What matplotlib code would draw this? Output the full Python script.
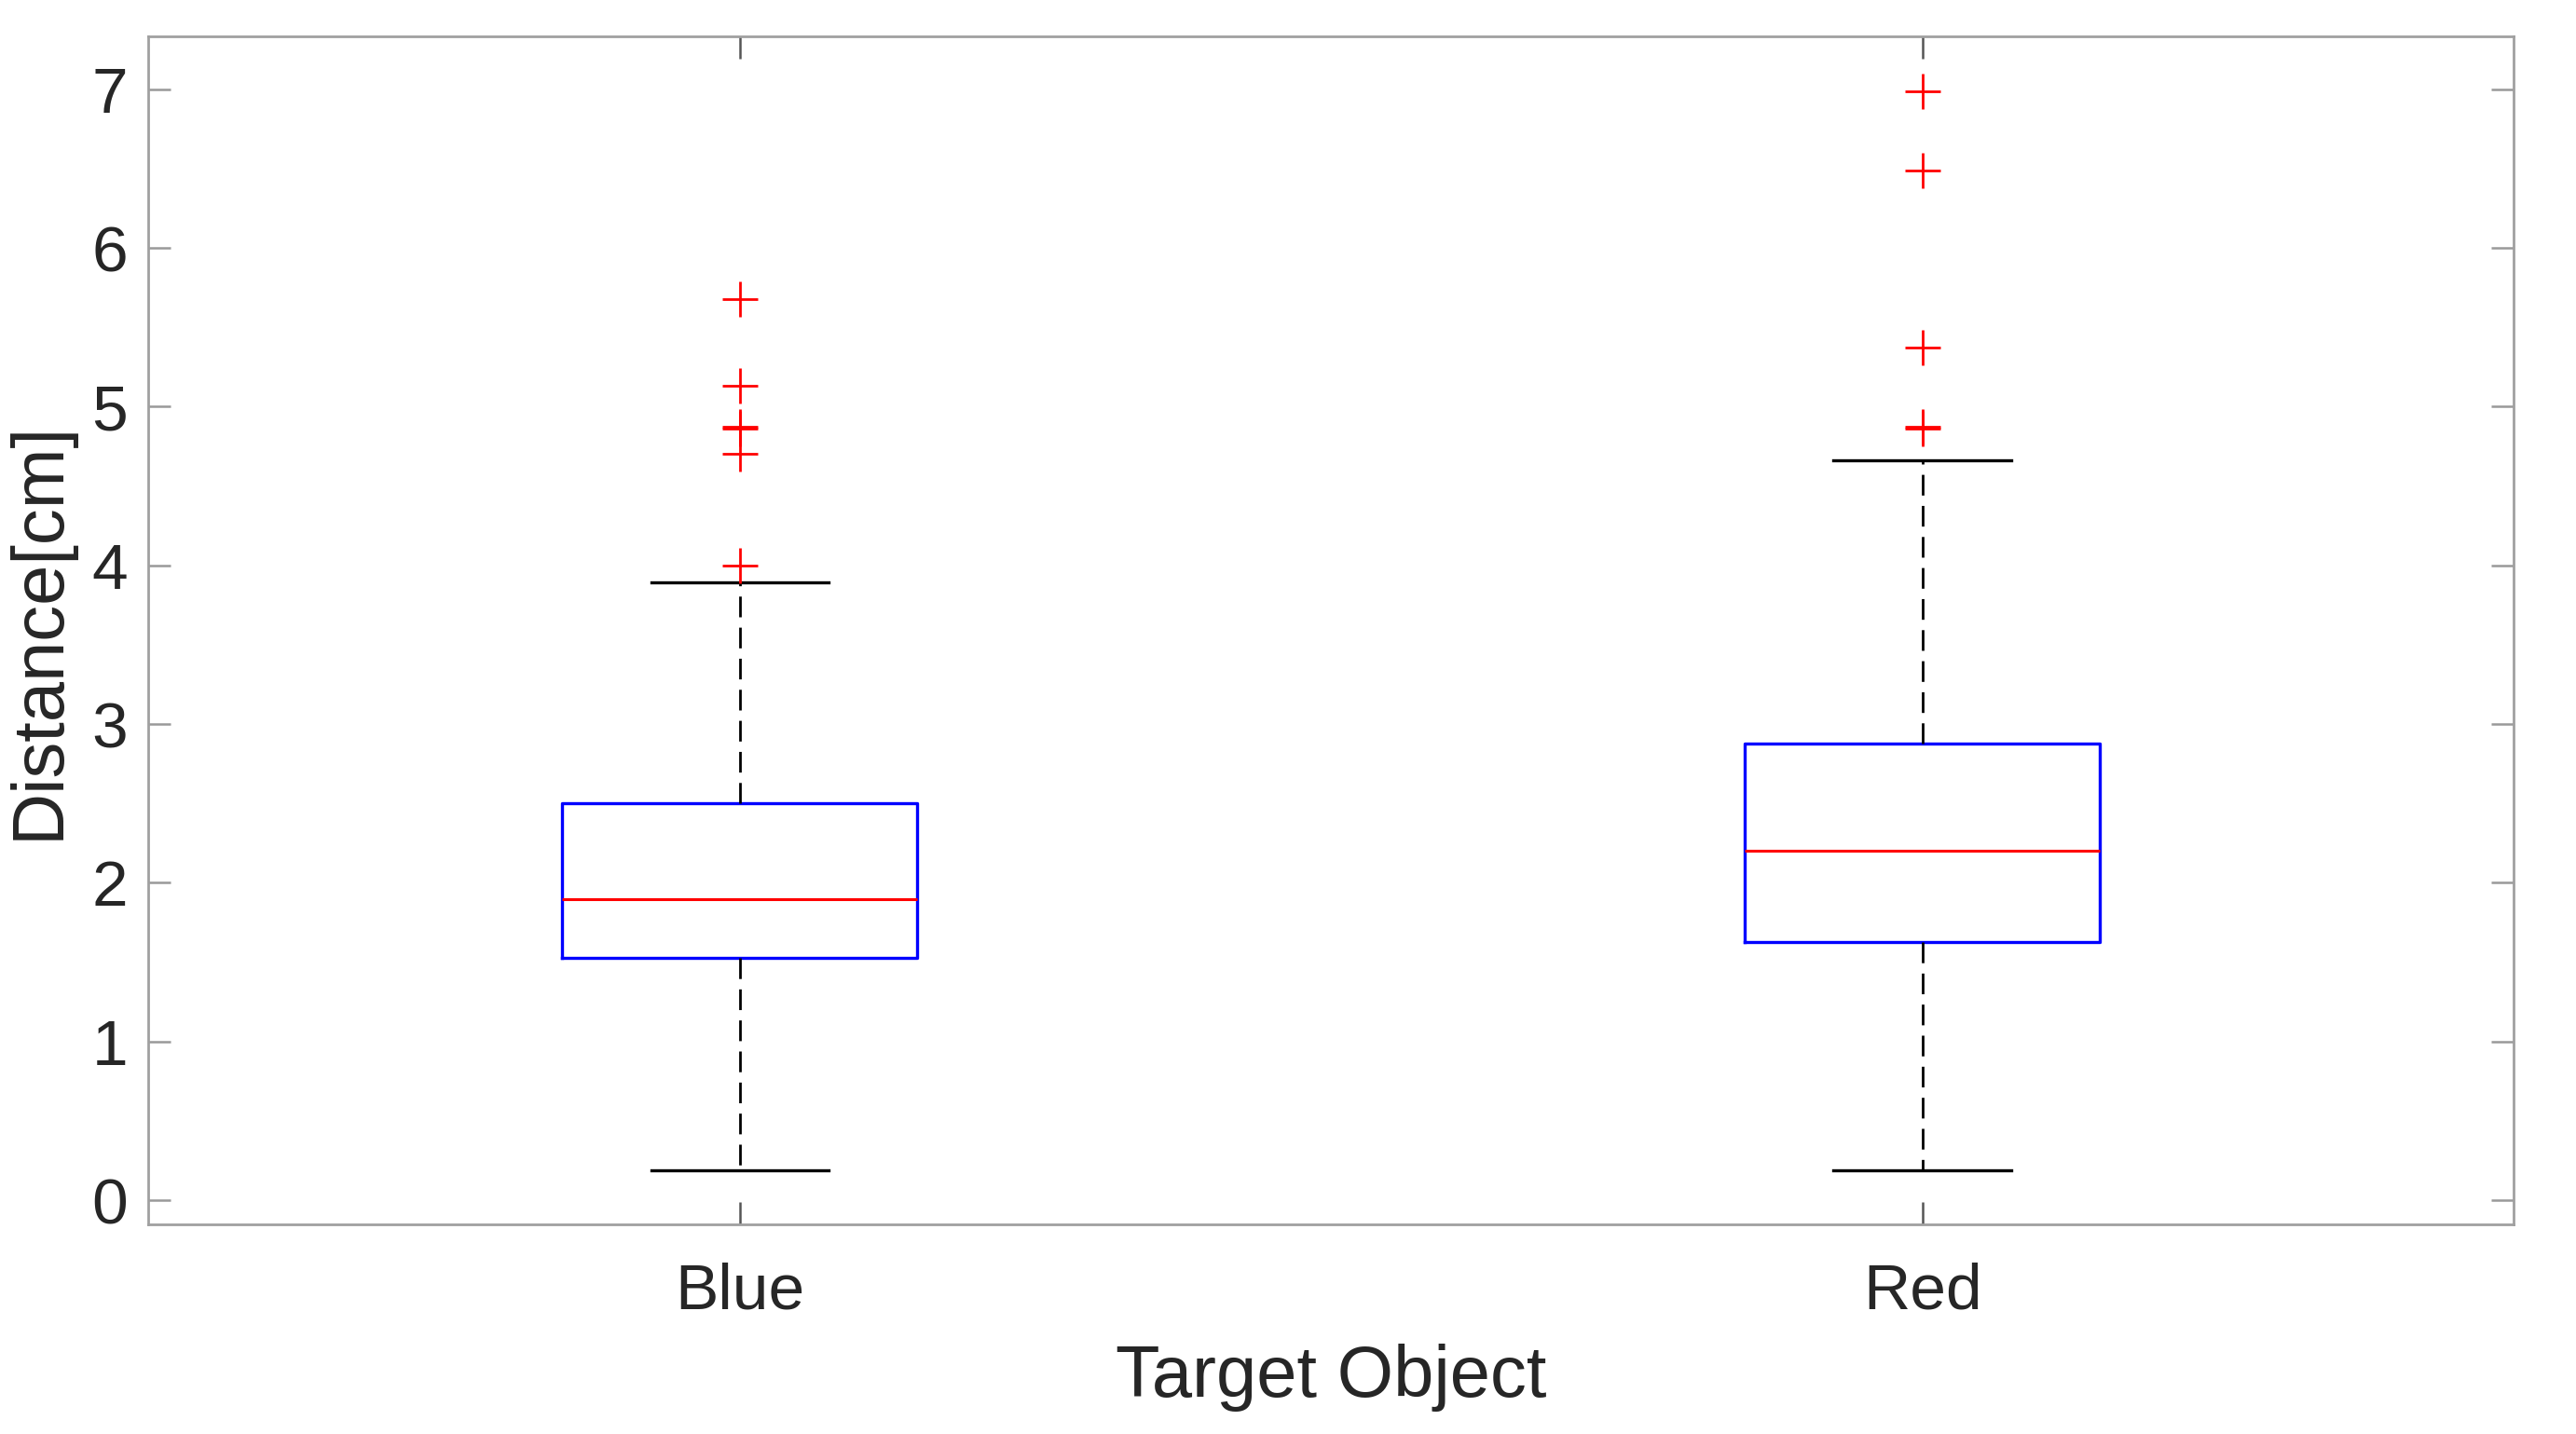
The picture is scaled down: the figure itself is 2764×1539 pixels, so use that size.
import matplotlib
matplotlib.use("Agg")
import matplotlib.pyplot as plt

# box statistics
groups = ["Blue", "Red"]
whis_lo = [0.19, 0.19]
q1 = [1.525, 1.626]
medians = [1.898, 2.205]
q3 = [2.502, 2.88]
whis_hi = [3.89, 4.66]
blue_out = [4.00, 4.70, 4.86, 4.875, 5.13, 5.68]
red_out = [4.86, 4.875, 5.37, 6.49, 6.985]
yticks = [0, 1, 2, 3, 4, 5, 6, 7]

plt.rcParams["font.family"] = ["Liberation Sans", "DejaVu Sans"]
txt = "#262626"

stats = []
for i, name in enumerate(groups):
    stats.append(dict(label=name, whislo=whis_lo[i], q1=q1[i], med=medians[i],
                      q3=q3[i], whishi=whis_hi[i],
                      fliers=[blue_out, red_out][i]))

fig = plt.figure(figsize=(27.64, 15.39), dpi=100)
ax = fig.add_axes([0.0576, 0.146, 0.9182, 0.8285])

ax.bxp(stats, positions=[1, 2], widths=0.3, capwidths=0.15,
       boxprops=dict(color="#0000ff", linewidth=2.4),
       medianprops=dict(color="#ff0000", linewidth=2.2),
       whiskerprops=dict(color="black", linewidth=2.0, linestyle=(0, (8, 4))),
       capprops=dict(color="black", linewidth=2.4),
       flierprops=dict(marker="+", markersize=28, markeredgecolor="#ff0000",
                       markeredgewidth=2.0, linestyle="none"))

ax.set_xlim(0.5, 2.5)
ax.set_ylim(-0.153, 7.331)
ax.set_yticks(yticks)
ax.set_xticks([1, 2])
ax.set_xticklabels(groups)

for s in ax.spines.values():
    s.set_color("#a0a0a0")
    s.set_linewidth(2.0)

ax.tick_params(axis="y", direction="in", length=17, width=1.8, color="#999999",
               labelsize=50, labelcolor=txt, pad=16, right=True)
ax.tick_params(axis="x", direction="in", length=17, width=1.8, color="#555555",
               labelsize=50, labelcolor=txt, pad=29, top=True)

ax.set_xlabel("Target Object", fontsize=56, color=txt, labelpad=17)
ax.set_ylabel("Distance[cm]", fontsize=56, color=txt, labelpad=14)

fig.savefig("out.png", dpi=100, facecolor="white")
